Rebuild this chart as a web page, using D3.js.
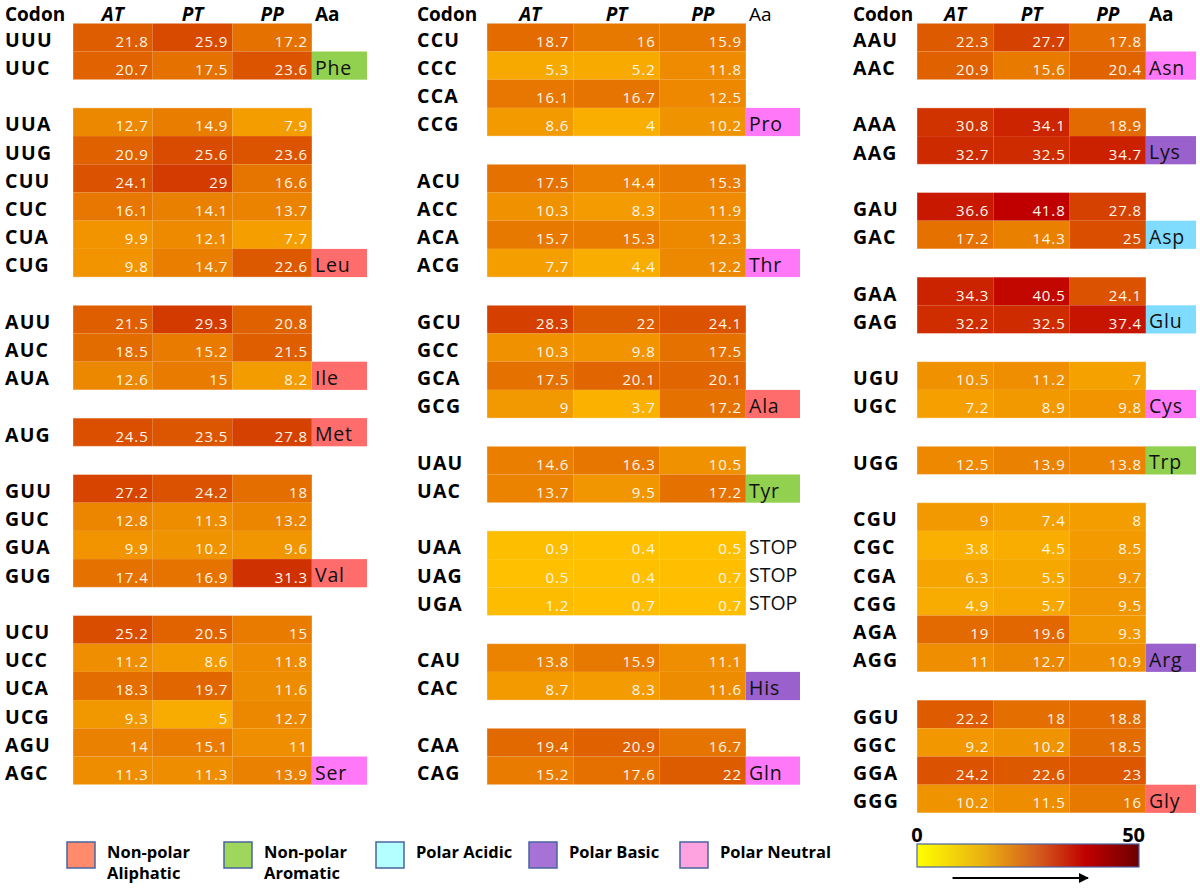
<!DOCTYPE html>
<html>
<head>
<meta charset="utf-8">
<script src="https://cdn.jsdelivr.net/npm/d3@7"></script>
<style>
  body { margin: 0; background: #fff; }
  text { font-family: "Open Sans", "DejaVu Sans", sans-serif; }
</style>
</head>
<body>
<div id="chart"></div>
<script>
// codon usage per 1000 codons, in the order they are listed top to bottom, panel by panel
const codons = [
  "UUU","UUC","UUA","UUG","CUU","CUC","CUA","CUG","AUU","AUC","AUA","AUG",
  "GUU","GUC","GUA","GUG","UCU","UCC","UCA","UCG","AGU","AGC",
  "CCU","CCC","CCA","CCG","ACU","ACC","ACA","ACG","GCU","GCC","GCA","GCG",
  "UAU","UAC","UAA","UAG","UGA","CAU","CAC","CAA","CAG",
  "AAU","AAC","AAA","AAG","GAU","GAC","GAA","GAG","UGU","UGC","UGG",
  "CGU","CGC","CGA","CGG","AGA","AGG","GGU","GGC","GGA","GGG"
]
const atUsage = [
  21.8,20.7,12.7,20.9,24.1,16.1,9.9,9.8,21.5,18.5,12.6,24.5,
  27.2,12.8,9.9,17.4,25.2,11.2,18.3,9.3,14,11.3,
  18.7,5.3,16.1,8.6,17.5,10.3,15.7,7.7,28.3,10.3,17.5,9,
  14.6,13.7,0.9,0.5,1.2,13.8,8.7,19.4,15.2,
  22.3,20.9,30.8,32.7,36.6,17.2,34.3,32.2,10.5,7.2,12.5,
  9,3.8,6.3,4.9,19,11,22.2,9.2,24.2,10.2
]
const ptUsage = [
  25.9,17.5,14.9,25.6,29,14.1,12.1,14.7,29.3,15.2,15,23.5,
  24.2,11.3,10.2,16.9,20.5,8.6,19.7,5,15.1,11.3,
  16,5.2,16.7,4,14.4,8.3,15.3,4.4,22,9.8,20.1,3.7,
  16.3,9.5,0.4,0.4,0.7,15.9,8.3,20.9,17.6,
  27.7,15.6,34.1,32.5,41.8,14.3,40.5,32.5,11.2,8.9,13.9,
  7.4,4.5,5.5,5.7,19.6,12.7,18,10.2,22.6,11.5
]
const ppUsage = [
  17.2,23.6,7.9,23.6,16.6,13.7,7.7,22.6,20.8,21.5,8.2,27.8,
  18,13.2,9.6,31.3,15,11.8,11.6,12.7,11,13.9,
  15.9,11.8,12.5,10.2,15.3,11.9,12.3,12.2,24.1,17.5,20.1,17.2,
  10.5,17.2,0.5,0.7,0.7,11.1,11.6,16.7,22,
  17.8,20.4,18.9,34.7,27.8,25,24.1,37.4,7,9.8,13.8,
  8,8.5,9.7,9.5,9.3,10.9,18.8,18.5,23,16
]

// codon groups (one amino acid each) and how many groups go in each panel
const groupSizes = [2,6,3,1,4,6, 4,4,4,2,3,2,2, 2,2,2,2,2,1,6,4]
const groupAa = ["Phe","Leu","Ile","Met","Val","Ser","Pro","Thr","Ala","Tyr","STOP","His","Gln",
                 "Asn","Lys","Asp","Glu","Cys","Trp","Arg","Gly"]
const groupClass = ["Non-polar Aromatic","Non-polar Aliphatic","Non-polar Aliphatic","Non-polar Aliphatic",
  "Non-polar Aliphatic","Polar Neutral","Polar Neutral","Polar Neutral","Non-polar Aliphatic",
  "Non-polar Aromatic",null,"Polar Basic","Polar Neutral","Polar Neutral","Polar Basic",
  "Polar Acidic","Polar Acidic","Polar Neutral","Non-polar Aromatic","Polar Basic","Non-polar Aliphatic"]
const panelGroupCounts = [6, 7, 8]

const samples = ["AT", "PT", "PP"]
const classNames = ["Non-polar Aliphatic","Non-polar Aromatic","Polar Acidic","Polar Basic","Polar Neutral"]
const scaleTicks = [0, 50]

const width = 1200
const height = 888

const svg = d3.select("#chart").append("svg")
  .attr("width", width)
  .attr("height", height)

// panel frames (left edge of codon label, cell block, amino acid box)
const panels = [
  { codonX: 5,   left: 73,  right: 312,  aaRight: 367,  aaBold: true },
  { codonX: 417, left: 487, right: 746,  aaRight: 800,  aaBold: false },
  { codonX: 853, left: 917, right: 1146, aaRight: 1196, aaBold: true }
]

const boxColor = d3.scaleOrdinal()
  .domain(classNames)
  .range(["#ff6c6c", "#92d050", "#80dcff", "#9a60cc", "#ff78f8"])
const swatchColor = d3.scaleOrdinal()
  .domain(classNames)
  .range(["#ff8a6c", "#9fd75c", "#b4ffff", "#a672d6", "#ffa2e0"])

const allValues = atUsage.concat(ptUsage, ppUsage)
const color = d3.scaleLinear()
  .domain(d3.extent(allValues))
  .range(["#ffc000", "#c00000"])

// 28 row slots shared by all panels, one empty slot between groups
const y = d3.scaleBand()
  .domain(d3.range(28))
  .range([23.3, 23.3 + 28 * 28.2])

let rows = []
let gi = 0, ci = 0
panelGroupCounts.forEach((n, p) => {
  let slot = 0
  for (let k = 0; k < n; k++, gi++) {
    const size = groupSizes[gi]
    for (let r = 0; r < size; r++, ci++) {
      rows.push({
        panel: p, slot: slot, codon: codons[ci],
        values: [atUsage[ci], ptUsage[ci], ppUsage[ci]],
        aa: groupAa[gi], cls: groupClass[gi], last: r === size - 1
      })
      slot++
    }
    slot++
  }
})

panels.forEach((pan, p) => {
  const x = d3.scaleBand().domain(samples).range([pan.left, pan.right])
  const g = svg.append("g")
  const prow = rows.filter(d => d.panel === p)

  // header
  g.append("text")
    .attr("x", pan.codonX).attr("y", 20.5)
    .attr("font-size", 19).attr("font-weight", "bold")
    .text("Codon")
  g.selectAll(".head").data(samples).join("text")
    .attr("x", d => x(d) + x.bandwidth() / 2).attr("y", 20.5)
    .attr("text-anchor", "middle")
    .attr("font-size", 19).attr("font-weight", "bold").attr("font-style", "italic")
    .text(d => d)
  g.append("text")
    .attr("x", pan.right + 3).attr("y", 20.5)
    .attr("font-size", 19).attr("font-weight", pan.aaBold ? "bold" : "normal")
    .text("Aa")

  // codon labels
  g.selectAll(".codon").data(prow).join("text")
    .attr("x", pan.codonX).attr("y", d => y(d.slot) + 23.4)
    .attr("font-size", 19.5).attr("font-weight", "bold")
    .attr("letter-spacing", 1.2)
    .text(d => d.codon)

  // heat cells
  const cells = prow.flatMap(d => d.values.map((v, i) => ({ slot: d.slot, s: samples[i], v: v })))
  g.selectAll(".cell").data(cells).join("rect")
    .attr("x", d => x(d.s)).attr("y", d => y(d.slot))
    .attr("width", x.bandwidth()).attr("height", y.bandwidth())
    .attr("fill", d => color(d.v))
  g.selectAll(".val").data(cells).join("text")
    .attr("x", d => x(d.s) + x.bandwidth() - 4).attr("y", d => y(d.slot) + 23.4)
    .attr("text-anchor", "end")
    .attr("font-size", 15).attr("letter-spacing", 0.9)
    .attr("fill", "#fff6ea")
    .text(d => d.v)
  // faint outline round each group block
  d3.groups(prow, d => d.aa).forEach(([aa, rs]) => {
    g.append("rect")
      .attr("x", pan.left).attr("y", y(rs[0].slot))
      .attr("width", pan.right - pan.left)
      .attr("height", y(rs[rs.length - 1].slot) + y.bandwidth() - y(rs[0].slot))
      .attr("fill", "none").attr("stroke", "#fff").attr("stroke-opacity", 0.35)
  })

  // amino acid labels
  const labelled = prow.filter(d => d.last || d.aa === "STOP")
  g.selectAll(".aabox").data(labelled.filter(d => d.cls)).join("rect")
    .attr("x", pan.right).attr("y", d => y(d.slot))
    .attr("width", pan.aaRight - pan.right).attr("height", y.bandwidth())
    .attr("fill", d => boxColor(d.cls))
  g.selectAll(".aa").data(labelled).join("text")
    .attr("x", pan.right + 3).attr("y", d => y(d.slot) + 23)
    .attr("font-size", 19.5).attr("letter-spacing", d => d.aa === "STOP" ? 0 : 0.8)
    .attr("fill", "#111")
    .text(d => d.aa)
})

// class legend
const legendX = d3.scaleOrdinal().domain(classNames).range([67, 224, 376, 529, 680])
const lg = svg.append("g")
lg.selectAll("rect").data(classNames).join("rect")
  .attr("x", d => legendX(d)).attr("y", 842)
  .attr("width", 28).attr("height", 26)
  .attr("fill", d => swatchColor(d))
  .attr("stroke", "#4a64a0").attr("stroke-width", 1.5)
lg.selectAll("text").data(classNames).join("text")
  .attr("x", d => legendX(d) + 40).attr("y", 858)
  .attr("font-size", 16.5).attr("font-weight", "bold")
  .each(function (d) {
    const words = d.startsWith("Non-polar") ? ["Non-polar", d.slice(10)] : [d]
    d3.select(this).selectAll("tspan").data(words).join("tspan")
      .attr("x", legendX(d) + 40)
      .attr("dy", (w, i) => i === 0 ? 0 : 21)
      .text(w => w)
  })

// colour bar legend
const defs = svg.append("defs")
const grad = defs.append("linearGradient").attr("id", "heat")
grad.selectAll("stop")
  .data([[0, "#ffff00"], [0.3, "#eab010"], [0.55, "#d45a1e"], [0.76, "#c00000"], [1, "#6c0000"]])
  .join("stop")
  .attr("offset", d => d[0]).attr("stop-color", d => d[1])

const bx = d3.scaleLinear().domain(scaleTicks).range([917, 1139])
svg.append("rect")
  .attr("x", bx(0)).attr("y", 844)
  .attr("width", bx(50) - bx(0)).attr("height", 23)
  .attr("fill", "url(#heat)")
  .attr("stroke", "#4a64a0").attr("stroke-width", 1.2)
svg.selectAll(".tick").data(scaleTicks).join("text")
  .attr("x", d => bx(d)).attr("y", 842)
  .attr("text-anchor", (d, i) => i === 0 ? "middle" : "end")
  .attr("dx", (d, i) => i === 0 ? 0 : 6)
  .attr("font-size", 20).attr("font-weight", "bold")
  .text(d => d)

defs.append("marker")
  .attr("id", "arrow").attr("viewBox", "0 0 10 10")
  .attr("refX", 9).attr("refY", 5)
  .attr("markerWidth", 5).attr("markerHeight", 5)
  .attr("orient", "auto")
  .append("path").attr("d", "M0,0L10,5L0,10z").attr("fill", "#000")
svg.append("line")
  .attr("x1", bx(8)).attr("x2", bx(38.5))
  .attr("y1", 878).attr("y2", 878)
  .attr("stroke", "#000").attr("stroke-width", 2)
  .attr("marker-end", "url(#arrow)")
</script>
</body>
</html>
